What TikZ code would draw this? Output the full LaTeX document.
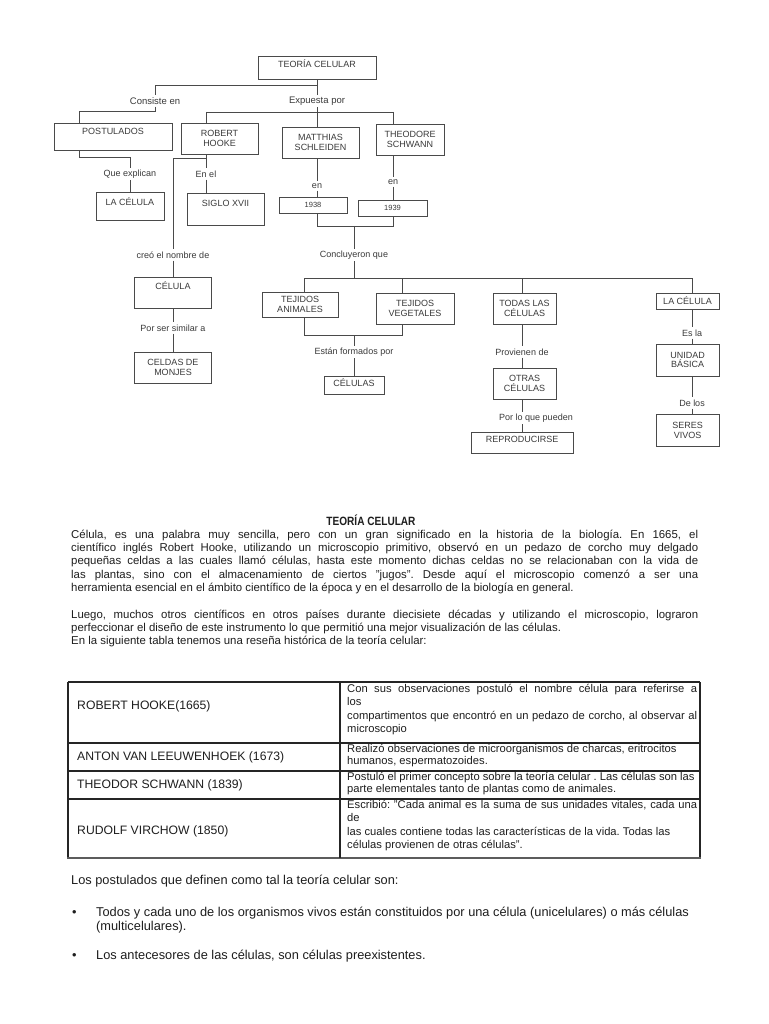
\documentclass[tikz,border=0pt]{standalone}
\usepackage{fontspec}
\setmainfont{Liberation Sans}
\newfontfamily\headfont[FakeStretch=0.84]{Liberation Sans}
\definecolor{ink}{HTML}{3A3A3A}
\definecolor{wire}{HTML}{4A4A4A}
\definecolor{txt}{HTML}{1E1E1E}
\definecolor{rule}{HTML}{252525}
\newcommand\jl[2]{\makebox[#1][s]{\spaceskip=0pt\xspaceskip=0pt #2}}
\tikzset{
  mbox/.style={draw=wire,line width=0.9pt,inner sep=0pt,font=\fontsize{9}{9.8}\selectfont,text=ink,align=center},
  sbox/.style={mbox,text height=6.5pt},
  ybox/.style={mbox,font=\fontsize{7.5}{8}\selectfont,text height=5.4pt,text depth=0pt},
  lab/.style={inner sep=2pt,font=\fontsize{9}{10}\selectfont,text=ink},
  blab/.style={lab,font=\fontsize{9.5}{10}\selectfont},
  link/.style={draw=wire,line width=0.9pt},
  para/.style={inner sep=0pt,anchor=base west,text width=640pt,align=flush left,font=\fontsize{11.4}{13.4}\selectfont\frenchspacing,text=txt},
  cell/.style={inner sep=0pt,anchor=base west,text width=370pt,align=flush left,font=\fontsize{11.2}{13.5}\selectfont\frenchspacing,text=txt},
  tcell/.style={cell,font=\fontsize{11.2}{12}\selectfont\frenchspacing},
  lcell/.style={inner sep=0pt,anchor=west,font=\fontsize{12.2}{14}\selectfont,text=txt},
  post/.style={inner sep=0pt,anchor=base west,align=flush left,font=\fontsize{12.8}{14}\selectfont\frenchspacing,text=txt},
  tline/.style={draw=rule,line width=1.3pt},
}
\begin{document}
\begin{tikzpicture}[x=1pt,y=-1pt]
\fill[white] (0,0) rectangle (768,1024);
\useasboundingbox (0,0) rectangle (768,1024);

% concept map
\node[sbox,minimum width=118pt,minimum height=23pt,text depth=7.1pt] (tc) at (317,67.5) {TEORÍA CELULAR};
\node[blab] (cons) at (155,101) {Consiste en};
\node[blab] (expl) at (317,101) {Expuesta por};
\coordinate (jtop) at (317,85);
\draw[link] (tc) -- (expl);
\draw[link] (jtop) -| (cons);

\node[sbox,minimum width=118pt,minimum height=27pt,text depth=11.1pt] (post) at (113,136.5) {POSTULADOS};
\coordinate (jpost) at (79,111);
\draw[link] (cons) |- (jpost) -- (jpost |- post.north);

\node[mbox,minimum width=77pt,minimum height=31pt] (hooke) at (219.5,138.5) {ROBERT\\HOOKE};
\node[mbox,minimum width=77pt,minimum height=31pt] (schl) at (320.5,142.5) {MATTHIAS\\SCHLEIDEN};
\node[mbox,minimum width=68pt,minimum height=31pt] (schw) at (410,139.5) {THEODORE\\SCHWANN};
\coordinate (jexp) at (317,112);
\coordinate (bh) at (206,112);
\coordinate (bw) at (393,112);
\draw[link] (expl) -- (jexp);
\draw[link] (bh) -- (bw);
\draw[link] (bh) -- (bh |- hooke.north);
\draw[link] (jexp) -- (jexp |- schl.north);
\draw[link] (bw) -- (bw |- schw.north);

% left branch
\node[lab] (quex) at (130,174) {Que explican};
\node[sbox,minimum width=68pt,minimum height=28pt,text depth=8.1pt] (lacel) at (130,206) {LA CÉLULA};
\coordinate (jq) at (79,157);
\draw[link] (jpost |- post.south) -- (jq) -| (quex);
\draw[link] (quex) -- (lacel);

\node[lab] (enel) at (206,174) {En el};
\node[sbox,minimum width=77pt,minimum height=32pt,text depth=12.1pt] (siglo) at (225.5,209) {SIGLO XVII};
\coordinate (jh) at (206,158);
\draw[link] (enel |- hooke.south) -- (enel);
\draw[link] (enel) -- (enel |- siglo.north);

\node[lab] (creo) at (173,255) {creó el nombre de};
\node[sbox,minimum width=77pt,minimum height=31pt,text depth=13.1pt] (celula) at (173,292.5) {CÉLULA};
\node[lab] (simil) at (173,328) {Por ser similar a};
\node[mbox,minimum width=77pt,minimum height=31pt] (monjes) at (173,367.5) {CELDAS DE\\MONJES};
\draw[link] (jh) -| (creo);
\draw[link] (creo) -- (celula) -- (simil) -- (monjes);

% years
\node[lab] (en1) at (317,186) {en};
\node[lab] (en2) at (393,182) {en};
\node[ybox,minimum width=68pt,minimum height=16pt] (y1938) at (313,205) {1938};
\node[ybox,minimum width=69pt,minimum height=16pt] (y1939) at (392.5,208) {1939};
\draw[link] (en1 |- schl.south) -- (en1) -- (en1 |- y1938.north);
\draw[link] (en2 |- schw.south) -- (en2) -- (en2 |- y1939.north);
\coordinate (jy) at (354,226);
\draw[link] (en1 |- y1938.south) -- (en1 |- jy) -- (en2 |- jy) -- (en2 |- y1939.south);

\node[lab] (concl) at (354,255) {Concluyeron que};
\coordinate (jc) at (354,278);
\draw[link] (jy) -- (concl) -- (jc);

\node[mbox,minimum width=76pt,minimum height=25pt] (tani) at (300,304.5) {TEJIDOS\\ANIMALES};
\node[mbox,minimum width=78pt,minimum height=31pt] (tveg) at (415,308.5) {TEJIDOS\\VEGETALES};
\node[mbox,minimum width=63pt,minimum height=31pt] (todas) at (524.5,308.5) {TODAS LAS\\CÉLULAS};
\node[sbox,minimum width=63pt,minimum height=16pt,text depth=0.1pt] (lacelb) at (687.5,301) {LA CÉLULA};
\coordinate (ba) at (304,278);
\coordinate (bv) at (402,278);
\coordinate (bt) at (522,278);
\coordinate (bl) at (692,278);
\draw[link] (ba) -- (bl);
\foreach \p/\n in {ba/tani,bv/tveg,bt/todas,bl/lacelb}
  \draw[link] (\p) -- (\p |- \n.north);

% tejidos
\node[lab] (form) at (354,352) {Están formados por};
\node[sbox,minimum width=60pt,minimum height=18pt,text depth=4.1pt] (celulas) at (354,385) {CÉLULAS};
\coordinate (jt) at (354,335);
\draw[link] (ba |- tani.south) -- (ba |- jt) -- (bv |- jt) -- (bv |- tveg.south);
\draw[link] (jt) -- (form) -- (celulas);

% todas las celulas
\node[lab] (prov) at (522,352) {Provienen de};
\node[mbox,minimum width=63pt,minimum height=31pt] (otras) at (524.5,383.5) {OTRAS\\CÉLULAS};
\node[lab] (pueden) at (536,418) {Por lo que pueden};
\node[sbox,minimum width=102pt,minimum height=21pt,text depth=7.1pt] (repro) at (522,442.5) {REPRODUCIRSE};
\draw[link] (bt |- todas.south) -- (prov) -- (bt |- otras.north);
\draw[link] (bt |- otras.south) -- (bt |- pueden.north);
\draw[link] (bt |- pueden.south) -- (bt |- repro.north);

% la celula
\node[lab] (esla) at (692,333) {Es la};
\node[mbox,minimum width=63pt,minimum height=32pt] (unidad) at (687.5,360) {UNIDAD\\BÁSICA};
\node[lab] (delos) at (692,403) {De los};
\node[mbox,minimum width=63pt,minimum height=32pt] (seres) at (687.5,430) {SERES\\VIVOS};
\draw[link] (bl |- lacelb.south) -- (esla) -- (bl |- unidad.north);
\draw[link] (bl |- unidad.south) -- (delos) -- (bl |- seres.north);

% text part
\node[inner sep=0pt,font=\headfont\bfseries\fontsize{12}{14}\selectfont,text=txt] (title) at (371,520.5) {TEORÍA CELULAR};
\node[para] (p1) at (71,538) {%
\jl{627pt}{Célula, es una palabra muy sencilla, pero con un gran significado en la historia de la biología. En 1665, el}\\
\jl{627pt}{científico inglés Robert Hooke, utilizando un microscopio primitivo, observó en un pedazo de corcho muy delgado}\\
\jl{627pt}{pequeñas celdas a las cuales llamó células, hasta este momento dichas celdas no se relacionaban con la vida de}\\
\jl{627pt}{las plantas, sino con el almacenamiento de ciertos "jugos". Desde aquí el microscopio comenzó a ser una}\\
herramienta esencial en el ámbito científico de la época y en el desarrollo de la biología en general.};
\node[para] (p2) at (71,618) {%
\jl{627pt}{Luego, muchos otros científicos en otros países durante diecisiete décadas y utilizando el microscopio, lograron}\\
perfeccionar el diseño de este instrumento lo que permitió una mejor visualización de las células.\\
En la siguiente tabla tenemos una reseña histórica de la teoría celular:};

% table
\draw[tline,line width=1.8pt] (68,682) -- (700,682);
\draw[tline,line width=1.8pt] (68,682) -- (68,858);
\draw[tline,line width=1.8pt] (700,682) -- (700,858);
\draw[draw=rule!75,line width=2.6pt] (67,858) -- (701,858);
\draw[tline,line width=1.8pt] (340,682) -- (340,858);
\foreach \r in {743,771,799}
  \draw[tline] (68,\r) -- (700,\r);
\node[lcell] (h1) at (77,706) {ROBERT HOOKE(1665)};
\node[lcell] (h2) at (77,757) {ANTON VAN LEEUWENHOEK (1673)};
\node[lcell] (h3) at (77,785) {THEODOR SCHWANN (1839)};
\node[lcell] (h4) at (77,831) {RUDOLF VIRCHOW (1850)};
\node[cell] (d1) at (347,692) {%
\jl{350pt}{Con sus observaciones postuló el nombre célula para referirse a}\\
los\\
\jl{350pt}{compartimentos que encontró en un pedazo de corcho, al observar al}\\
microscopio};
\node[tcell] (d2) at (347,752) {Realizó observaciones de microorganismos de charcas, eritrocitos\\humanos, espermatozoides.};
\node[tcell] (d3) at (347,780) {Postuló el primer concepto sobre la teoría celular . Las células son las\\parte elementales tanto de plantas como de animales.};
\node[cell] (d4) at (347,808) {%
\jl{350pt}{Escribió: "Cada animal es la suma de sus unidades vitales, cada una}\\
de\\
las cuales contiene todas las características de la vida. Todas las\\
células provienen de otras células".};

% postulados
\node[post] (pintro) at (71,884) {Los postulados que definen como tal la teoría celular son:};
\node[post] (dot1) at (72,916) {•};
\node[post,text width=620pt] (item1) at (96,916) {Todos y cada uno de los organismos vivos están constituidos por una célula (unicelulares) o más células\\(multicelulares).};
\node[post] (dot2) at (72,959) {•};
\node[post] (item2) at (96,959) {Los antecesores de las células, son células preexistentes.};
\end{tikzpicture}
\end{document}
